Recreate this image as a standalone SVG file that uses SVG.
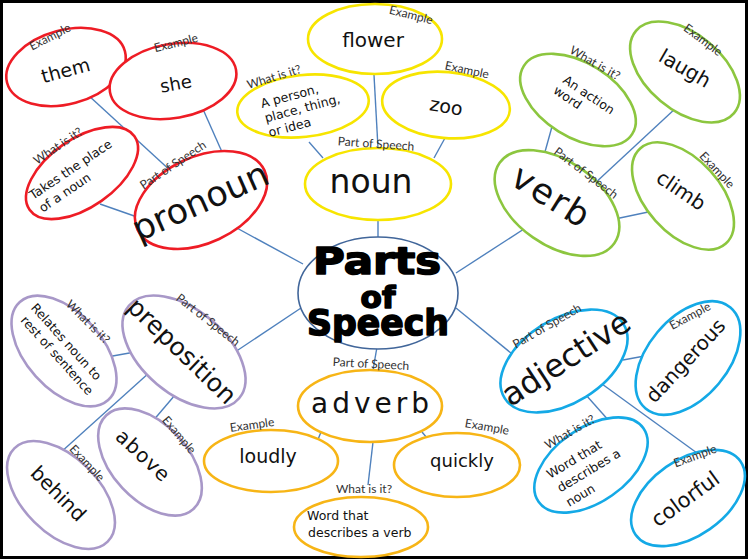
<svg xmlns="http://www.w3.org/2000/svg" width="748" height="559" viewBox="0 0 748 559">
<style>
.conn line{stroke:#4f81bd;stroke-width:1.4}
ellipse{fill:#fff;stroke-width:2.6}
.red ellipse{stroke:#ee1c25}
.yel ellipse{stroke:#f7e500}
.grn ellipse{stroke:#8cc63f}
.pur ellipse{stroke:#a898c8}
.org ellipse{stroke:#f7b516}
.cyn ellipse{stroke:#14a9e6}
#center ellipse{stroke:#41669a;stroke-width:1.6}
.lbl{font-family:Lato,"Open Sans",sans-serif;font-size:12px;fill:#333;text-anchor:middle}
.w{font-family:"DejaVu Sans",sans-serif;fill:#111;text-anchor:middle}
.d{font-family:"DejaVu Sans",sans-serif;fill:#111;font-size:12.5px}
.c{font-family:"DejaVu Sans",sans-serif;font-weight:bold;fill:#000;stroke:#000;stroke-width:1.6;stroke-linejoin:round;text-anchor:middle}
</style>
<rect x="0" y="0" width="748" height="559" fill="#fff"/>
<rect x="1.5" y="1.5" width="745" height="556" fill="none" stroke="#000" stroke-width="3"/>

<g id="connectors" class="conn">
<line x1="88" y1="95" x2="173" y2="173"/>
<line x1="202" y1="107" x2="222" y2="152"/>
<line x1="100" y1="204" x2="140" y2="218"/>
<line x1="235" y1="227" x2="303" y2="264"/>
<line x1="374" y1="75" x2="378" y2="148"/>
<line x1="309" y1="142" x2="323" y2="158"/>
<line x1="445" y1="138" x2="434" y2="158"/>
<line x1="378" y1="219" x2="378" y2="239"/>
<line x1="553" y1="123" x2="543" y2="159"/>
<line x1="677" y1="107" x2="593" y2="185"/>
<line x1="653" y1="211" x2="615" y2="219"/>
<line x1="527" y1="227" x2="456" y2="273"/>
<line x1="107" y1="357" x2="135" y2="352"/>
<line x1="150" y1="372" x2="60" y2="453"/>
<line x1="175" y1="395" x2="152" y2="422"/>
<line x1="235" y1="352" x2="301" y2="308"/>
<line x1="377" y1="347" x2="373" y2="370"/>
<line x1="321" y1="432" x2="317" y2="442"/>
<line x1="422" y1="432" x2="427" y2="438"/>
<line x1="373" y1="442" x2="368" y2="485"/>
<line x1="456" y1="308" x2="517" y2="358"/>
<line x1="623" y1="360" x2="650" y2="355"/>
<line x1="586" y1="395" x2="610" y2="422"/>
<line x1="602" y1="384" x2="697" y2="453"/>
</g>

<g id="center">
<ellipse cx="378" cy="293" rx="80" ry="56"/>
<text class="c" x="377" y="274" font-size="38" textLength="128" lengthAdjust="spacingAndGlyphs">Parts</text>
<text class="c" x="378" y="308" font-size="31">of</text>
<text class="c" x="378" y="335" font-size="36" textLength="142" lengthAdjust="spacingAndGlyphs">Speech</text>
</g>

<g id="pronoun" class="red">
<ellipse cx="201" cy="200" rx="70" ry="43" transform="rotate(-25 201 200)"/>
<text class="w" font-size="35" transform="translate(201,203) rotate(-24)" y="10">pronoun</text>
<text class="lbl" transform="translate(173,165) rotate(-34)" y="4">Part of Speech</text>
</g>
<g id="pronoun-them" class="red">
<ellipse cx="66" cy="67" rx="61" ry="37" transform="rotate(-15 66 67)"/>
<text class="w" font-size="19" transform="translate(66,72) rotate(-15)" y="5">them</text>
<text class="lbl" transform="translate(50,37) rotate(-27)" y="4">Example</text>
</g>
<g id="pronoun-she" class="red">
<ellipse cx="173" cy="81" rx="64" ry="37" transform="rotate(-10 173 81)"/>
<text class="w" font-size="18" transform="translate(176,85) rotate(-10)" y="5">she</text>
<text class="lbl" transform="translate(176,43) rotate(-14)" y="4">Example</text>
</g>
<g id="pronoun-what" class="red">
<ellipse cx="82" cy="173" rx="64" ry="34" transform="rotate(-35 82 173)"/>
<text class="d" font-size="12" transform="translate(33,200) rotate(-34)"><tspan x="0" y="0">Takes the place</tspan><tspan x="1" y="16">of a noun</tspan></text>
<text class="lbl" transform="translate(58,146) rotate(-34)" y="4">What is it?</text>
</g>

<g id="noun" class="yel">
<ellipse cx="378" cy="184" rx="73" ry="36"/>
<text class="w" font-size="33" x="371" y="193">noun</text>
<text class="lbl" transform="translate(376,144) rotate(4)" y="4">Part of Speech</text>
</g>
<g id="noun-flower" class="yel">
<ellipse cx="375" cy="39" rx="67" ry="35"/>
<text class="w" font-size="20" x="373" y="47">flower</text>
<text class="lbl" transform="translate(411,15) rotate(14)" y="4">Example</text>
</g>
<g id="noun-what" class="yel">
<ellipse cx="303" cy="106" rx="66" ry="31" transform="rotate(-6 303 106)"/>
<text class="d" transform="translate(262,108) rotate(-15)"><tspan x="0" y="0">A person,</tspan><tspan x="0" y="15">place, thing,</tspan><tspan x="0" y="30">or idea</tspan></text>
<text class="lbl" transform="translate(274,77) rotate(-17)" y="4">What is it?</text>
</g>
<g id="noun-zoo" class="yel">
<ellipse cx="446" cy="105" rx="64" ry="33" transform="rotate(5 446 105)"/>
<text class="w" font-size="19" transform="translate(446,108) rotate(10)" y="5">zoo</text>
<text class="lbl" transform="translate(467,70) rotate(12)" y="4">Example</text>
</g>

<g id="verb" class="grn">
<ellipse cx="557" cy="203" rx="70" ry="42" transform="rotate(35 557 203)"/>
<text class="w" font-size="35" transform="translate(550,199) rotate(32)" y="9" letter-spacing="2">verb</text>
<text class="lbl" transform="translate(586,173) rotate(37)" y="4">Part of Speech</text>
</g>
<g id="verb-laugh" class="grn">
<ellipse cx="685" cy="72" rx="64" ry="38" transform="rotate(40 685 72)"/>
<text class="w" font-size="20" transform="translate(684,70) rotate(30)" y="5">laugh</text>
<text class="lbl" transform="translate(703,40) rotate(37)" y="4">Example</text>
</g>
<g id="verb-what" class="grn">
<ellipse cx="578" cy="100" rx="64" ry="37" transform="rotate(32 578 100)"/>
<text class="d" font-size="13" transform="translate(562,82) rotate(34)"><tspan x="0" y="0">An action</tspan><tspan x="-2" y="14">word</tspan></text>
<text class="lbl" transform="translate(595,63) rotate(30)" y="4">What is it?</text>
</g>
<g id="verb-climb" class="grn">
<ellipse cx="683" cy="196" rx="64" ry="37" transform="rotate(48 683 196)"/>
<text class="w" font-size="20" transform="translate(680,192) rotate(34)" y="5">climb</text>
<text class="lbl" transform="translate(717,170) rotate(47)" y="4">Example</text>
</g>

<g id="preposition" class="pur">
<ellipse cx="184" cy="352" rx="72" ry="42" transform="rotate(40 184 352)"/>
<text class="w" font-size="25" transform="translate(181,352) rotate(44)" y="7">preposition</text>
<text class="lbl" transform="translate(208,320) rotate(38)" y="4">Part of Speech</text>
</g>
<g id="preposition-what" class="pur">
<ellipse cx="64" cy="351" rx="66" ry="38" transform="rotate(48 64 351)"/>
<text class="d" font-size="12.8" transform="translate(66,342) rotate(48)" text-anchor="middle"><tspan x="0" y="4">Relates noun to</tspan><tspan x="4" y="20">rest of sentence</tspan></text>
<text class="lbl" transform="translate(88,322) rotate(45)" y="4">What is it?</text>
</g>
<g id="preposition-above" class="pur">
<ellipse cx="150" cy="462" rx="64" ry="38" transform="rotate(47 150 462)"/>
<text class="w" font-size="20" transform="translate(142,457) rotate(43)" y="5" letter-spacing="1">above</text>
<text class="lbl" transform="translate(179,435) rotate(50)" y="4">Example</text>
</g>
<g id="preposition-behind" class="pur">
<ellipse cx="61" cy="495" rx="66" ry="38" transform="rotate(45 61 495)"/>
<text class="w" font-size="20" transform="translate(57,495) rotate(45)" y="5">behind</text>
<text class="lbl" transform="translate(87,463) rotate(47)" y="4">Example</text>
</g>

<g id="adverb" class="org">
<ellipse cx="370" cy="406" rx="72" ry="36"/>
<text class="w" font-size="28" x="372" y="413" letter-spacing="4">adverb</text>
<text class="lbl" transform="translate(371,364) rotate(3)" y="4">Part of Speech</text>
</g>
<g id="adverb-loudly" class="org">
<ellipse cx="271" cy="461" rx="67" ry="31"/>
<text class="w" font-size="19" x="268" y="463">loudly</text>
<text class="lbl" transform="translate(252,425) rotate(-8)" y="4">Example</text>
</g>
<g id="adverb-quickly" class="org">
<ellipse cx="457" cy="465" rx="63" ry="32"/>
<text class="w" font-size="18" x="462" y="467">quickly</text>
<text class="lbl" transform="translate(487,427) rotate(10)" y="4">Example</text>
</g>
<g id="adverb-what" class="org">
<ellipse cx="361" cy="527" rx="67" ry="30"/>
<text class="d" font-size="13"><tspan x="307" y="520">Word that</tspan><tspan x="308" y="537">describes a verb</tspan></text>
<text class="lbl" x="364" y="493">What is it?</text>
</g>

<g id="adjective" class="cyn">
<ellipse cx="564" cy="361" rx="70" ry="42" transform="rotate(-32 564 361)"/>
<text class="w" font-size="32" transform="translate(567,360) rotate(-33)" y="9">adjective</text>
<text class="lbl" transform="translate(547,326) rotate(-30)" y="4">Part of Speech</text>
</g>
<g id="adjective-dangerous" class="cyn">
<ellipse cx="688" cy="358" rx="66" ry="40" transform="rotate(-50 688 358)"/>
<text class="w" font-size="20" transform="translate(687,362) rotate(-47)" y="5">dangerous</text>
<text class="lbl" transform="translate(690,316) rotate(-28)" y="4">Example</text>
</g>
<g id="adjective-what" class="cyn">
<ellipse cx="591" cy="465" rx="64" ry="37" transform="rotate(-35 591 465)"/>
<text class="d" font-size="12.5" transform="translate(550,479) rotate(-31)"><tspan x="0" y="0">Word that</tspan><tspan x="2" y="17">describes a</tspan><tspan x="2" y="34">noun</tspan></text>
<text class="lbl" transform="translate(570,432) rotate(-30)" y="4">What is it?</text>
</g>
<g id="adjective-colorful" class="cyn">
<ellipse cx="688" cy="498" rx="64" ry="38" transform="rotate(-35 688 498)"/>
<text class="w" font-size="21" transform="translate(686,500) rotate(-36)" y="6">colorful</text>
<text class="lbl" transform="translate(695,456) rotate(-20)" y="4">Example</text>
</g>
</svg>
